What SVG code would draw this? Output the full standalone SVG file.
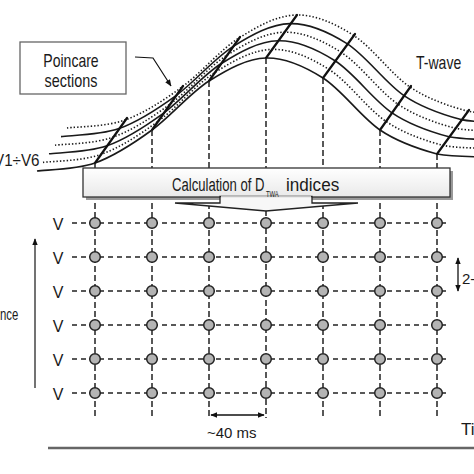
<svg xmlns="http://www.w3.org/2000/svg" xmlns:xlink="http://www.w3.org/1999/xlink" width="474" height="474" viewBox="0 0 474 474">
<style>
text{font-family:"Liberation Sans",Arial,sans-serif;fill:#1a1a1a}
.sol{fill:none;stroke:#1a1a1a;stroke-width:1.6}
.dot{fill:none;stroke:#1a1a1a;stroke-width:1.6;stroke-dasharray:1.4,2}
.sec{stroke:#111;stroke-width:2.2;stroke-linecap:round}
.vd{stroke:#222;stroke-width:1.5;stroke-dasharray:6,3}
.hd{stroke:#222;stroke-width:1.5;stroke-dasharray:5,4}
.pt{fill:#b4b4b4;stroke:#222;stroke-width:1.5}
.v{font-size:16px;text-anchor:middle}
</style>
<defs>
<path id="wave" d="M37,171 C47,169.7 76,169.8 95,163 C114,156.2 133.2,143.7 152,130 C170.8,116.3 190,93 209,81 C228,69 247,58.5 266,58 C285,57.5 304,66 323,78 C342,90 361.2,117.3 380,130 C398.8,142.7 420.5,149.5 437,154 C453,157 472.8,156.5 490,157"/>
<marker id="ah" viewBox="0 0 10 10" refX="9" refY="5" markerWidth="7" markerHeight="7" orient="auto-start-reverse" markerUnits="userSpaceOnUse">
<path d="M0,1 L10,5 L0,9 Z" fill="#111"/>
</marker>
<linearGradient id="bg" x1="0" y1="0" x2="0" y2="1">
<stop offset="0" stop-color="#ffffff"/>
<stop offset="1" stop-color="#e9e9e9"/>
</linearGradient>
</defs>
<rect width="474" height="474" fill="#fff"/>

<g id="waves">
<use xlink:href="#wave" class="sol"/>
<use xlink:href="#wave" class="dot" transform="translate(6,-8.6)"/>
<use xlink:href="#wave" class="sol" transform="translate(12,-17.2)"/>
<use xlink:href="#wave" class="dot" transform="translate(18,-25.8)"/>
<use xlink:href="#wave" class="sol" transform="translate(24,-34.4)"/>
<use xlink:href="#wave" class="dot" transform="translate(30,-43)"/>
</g>

<g id="connectors">
<line class="sec" x1="95" y1="163" x2="127" y2="118"/>
<line class="sec" x1="152" y1="130" x2="183" y2="86"/>
<line class="sec" x1="209" y1="81" x2="240" y2="37"/>
<line class="sec" x1="266" y1="58" x2="297" y2="15"/>
<line class="sec" x1="323" y1="78" x2="355" y2="34"/>
<line class="sec" x1="380" y1="130" x2="411" y2="86"/>
<line class="sec" x1="437" y1="154" x2="469" y2="110"/>
<line class="vd" x1="95" y1="163" x2="95" y2="168"/>
<line class="vd" x1="152" y1="130" x2="152" y2="168"/>
<line class="vd" x1="209" y1="81" x2="209" y2="168"/>
<line class="vd" x1="266" y1="58" x2="266" y2="168"/>
<line class="vd" x1="323" y1="78" x2="323" y2="168"/>
<line class="vd" x1="380" y1="130" x2="380" y2="168"/>
<line class="vd" x1="437" y1="154" x2="437" y2="168"/>
<line class="vd" x1="95" y1="203" x2="95" y2="418"/>
<line class="vd" x1="152" y1="203" x2="152" y2="418"/>
<line class="vd" x1="209" y1="203" x2="209" y2="418"/>
<line class="vd" x1="266" y1="210" x2="266" y2="418"/>
<line class="vd" x1="323" y1="203" x2="323" y2="418"/>
<line class="vd" x1="380" y1="203" x2="380" y2="418"/>
<line class="vd" x1="437" y1="203" x2="437" y2="418"/>
<line class="hd" x1="72" y1="223" x2="448" y2="223"/>
<line class="hd" x1="72" y1="257" x2="448" y2="257"/>
<line class="hd" x1="72" y1="291" x2="448" y2="291"/>
<line class="hd" x1="72" y1="325" x2="448" y2="325"/>
<line class="hd" x1="72" y1="359" x2="448" y2="359"/>
<line class="hd" x1="72" y1="393" x2="448" y2="393"/>
<polyline points="135,57 153,58 171,86" fill="none" stroke="#111" stroke-width="1.2" marker-end="url(#ah)"/>
<line x1="35" y1="388" x2="35" y2="239" stroke="#444" stroke-width="1.5" marker-end="url(#ah)"/>
<line x1="211" y1="415" x2="264" y2="415" stroke="#111" stroke-width="1.3" marker-start="url(#ah)" marker-end="url(#ah)"/>
<line x1="458" y1="258" x2="458" y2="291" stroke="#111" stroke-width="1.3" marker-start="url(#ah)" marker-end="url(#ah)"/>
<line x1="48" y1="448" x2="474" y2="448" stroke="#666" stroke-width="2.5"/>
</g>

<g id="poincare-box">
<rect x="20" y="42" width="106" height="52" fill="#fff" stroke="#666" stroke-width="1.3"/>
<text transform="translate(71,67) scale(0.78,1)" font-size="18" text-anchor="middle">Poincare</text>
<text transform="translate(71,87) scale(0.8,1)" font-size="18" text-anchor="middle">sections</text>
</g>

<g id="calc-box">
<rect x="86" y="171" width="367" height="29" fill="#999"/>
<rect x="83" y="168" width="367" height="29" fill="url(#bg)" stroke="#333" stroke-width="1.3"/>
<polygon points="220,196.5 220,203 175,203 266,211 358,203 312,203 312,196.5" fill="#f7f7f7" stroke="#222" stroke-width="1.3"/>
<line x1="221" y1="197" x2="311" y2="197" stroke="#f7f7f7" stroke-width="1.5"/>
<text transform="translate(172,191) scale(0.69,1)" font-size="19">Calculation of D</text>
<text transform="translate(266,196.5) scale(0.65,1)" font-size="9">TWA</text>
<text transform="translate(286,191) scale(0.9,1)" font-size="19">indices</text>
</g>

<g id="grid-points">
<g id="col1"><circle class="pt" cx="95" cy="223" r="5.3"/><circle class="pt" cx="95" cy="257" r="5.3"/><circle class="pt" cx="95" cy="291" r="5.3"/><circle class="pt" cx="95" cy="325" r="5.3"/><circle class="pt" cx="95" cy="359" r="5.3"/><circle class="pt" cx="95" cy="393" r="5.3"/></g>
<g id="col2"><circle class="pt" cx="152" cy="223" r="5.3"/><circle class="pt" cx="152" cy="257" r="5.3"/><circle class="pt" cx="152" cy="291" r="5.3"/><circle class="pt" cx="152" cy="325" r="5.3"/><circle class="pt" cx="152" cy="359" r="5.3"/><circle class="pt" cx="152" cy="393" r="5.3"/></g>
<g id="col3"><circle class="pt" cx="209" cy="223" r="5.3"/><circle class="pt" cx="209" cy="257" r="5.3"/><circle class="pt" cx="209" cy="291" r="5.3"/><circle class="pt" cx="209" cy="325" r="5.3"/><circle class="pt" cx="209" cy="359" r="5.3"/><circle class="pt" cx="209" cy="393" r="5.3"/></g>
<g id="col4"><circle class="pt" cx="266" cy="223" r="5.3"/><circle class="pt" cx="266" cy="257" r="5.3"/><circle class="pt" cx="266" cy="291" r="5.3"/><circle class="pt" cx="266" cy="325" r="5.3"/><circle class="pt" cx="266" cy="359" r="5.3"/><circle class="pt" cx="266" cy="393" r="5.3"/></g>
<g id="col5"><circle class="pt" cx="323" cy="223" r="5.3"/><circle class="pt" cx="323" cy="257" r="5.3"/><circle class="pt" cx="323" cy="291" r="5.3"/><circle class="pt" cx="323" cy="325" r="5.3"/><circle class="pt" cx="323" cy="359" r="5.3"/><circle class="pt" cx="323" cy="393" r="5.3"/></g>
<g id="col6"><circle class="pt" cx="380" cy="223" r="5.3"/><circle class="pt" cx="380" cy="257" r="5.3"/><circle class="pt" cx="380" cy="291" r="5.3"/><circle class="pt" cx="380" cy="325" r="5.3"/><circle class="pt" cx="380" cy="359" r="5.3"/><circle class="pt" cx="380" cy="393" r="5.3"/></g>
<g id="col7"><circle class="pt" cx="437" cy="223" r="5.3"/><circle class="pt" cx="437" cy="257" r="5.3"/><circle class="pt" cx="437" cy="291" r="5.3"/><circle class="pt" cx="437" cy="325" r="5.3"/><circle class="pt" cx="437" cy="359" r="5.3"/><circle class="pt" cx="437" cy="393" r="5.3"/></g>
</g>

<g id="labels">
<text class="v" x="58" y="230">V</text>
<text class="v" x="58" y="264">V</text>
<text class="v" x="58" y="298">V</text>
<text class="v" x="58" y="332">V</text>
<text class="v" x="58" y="366">V</text>
<text class="v" x="58" y="400">V</text>
<text transform="translate(-6,166) scale(0.95,1)" font-size="16">V1÷V6</text>
<text transform="translate(416,69) scale(0.78,1)" font-size="18">T-wave</text>
<text transform="translate(0,320) scale(0.67,1)" font-size="17">nce</text>
<text x="207" y="438" font-size="15">~40 ms</text>
<text x="462" y="284" font-size="15">2-</text>
<text x="461" y="435" font-size="17">Ti</text>
</g>
</svg>
